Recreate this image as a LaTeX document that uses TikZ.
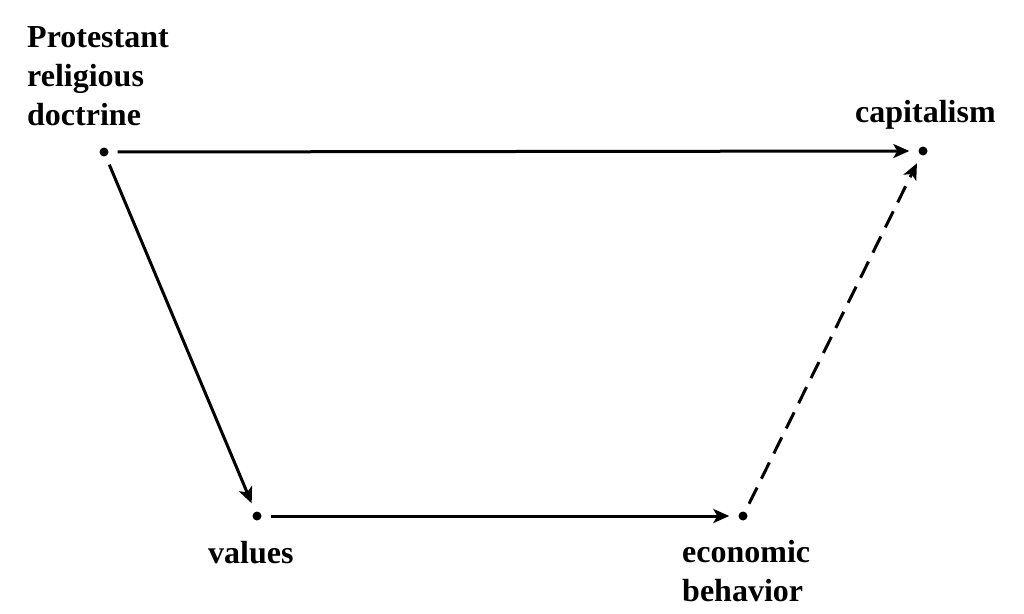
\documentclass[tikz,border=0pt]{standalone}
\usepackage{fontspec}
\setmainfont{Liberation Serif}
\usetikzlibrary{arrows.meta}
\begin{document}
\begin{tikzpicture}[x=1pt,y=-1pt,
  dot/.style={circle,fill=black,inner sep=0pt,minimum size=9pt},
  lbl/.style={inner sep=0pt,align=left,font=\fontsize{32}{39}\selectfont\bfseries},
  conn/.style={line width=3pt,-{Stealth[length=16pt,width=14pt,inset=4pt]},shorten <=9pt,shorten >=9pt},
  dashconn/.style={conn,dash pattern=on 18pt off 10pt}]
\useasboundingbox[fill=white] (0,0) rectangle (1024,613);
\node[dot] (pd) at (104,152) {};
\node[dot] (cap) at (923,151) {};
\node[dot] (val) at (257,516) {};
\node[dot] (eco) at (743,516) {};
\node[lbl,anchor=north west] (tpd) at (27,26) {Protestant\\religious\\doctrine};
\node[lbl,anchor=base west] (tcap) at (855,122) {capitalism};
\node[lbl,anchor=base west] (tval) at (208,563) {values};
\node[lbl,anchor=north west] (teco) at (682,540) {economic\\behavior};
\draw[conn] (pd) -- (cap);
\draw[conn] (pd) -- (val);
\draw[conn] (val) -- (eco);
\draw[dashconn] (eco) -- (cap);
\end{tikzpicture}
\end{document}
